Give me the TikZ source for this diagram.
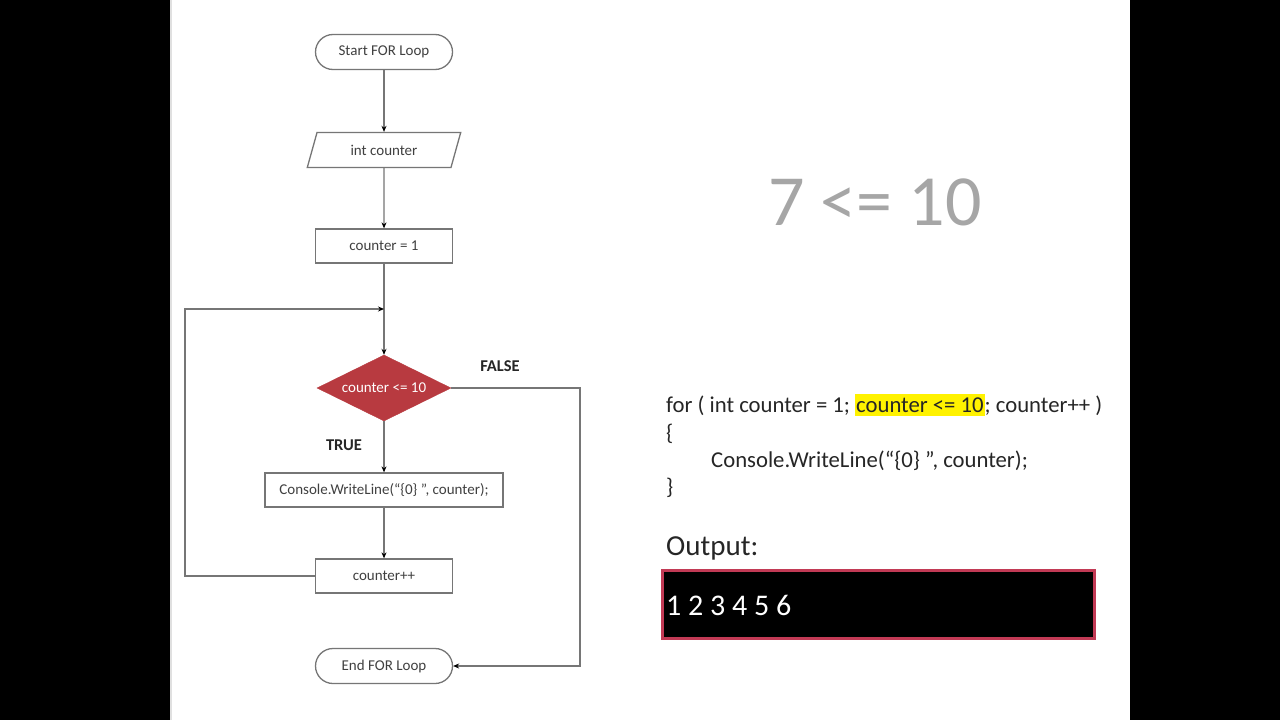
\documentclass[tikz,border=0pt]{standalone}
\usepackage{fontspec}
\setmainfont{Carlito}
\usetikzlibrary{shapes.geometric,arrows.meta,calc}
\definecolor{linegray}{HTML}{767676}
\definecolor{txtgray}{HTML}{404040}
\definecolor{diared}{HTML}{B83A40}
\definecolor{bignum}{HTML}{A6A6A6}
\definecolor{codeblk}{HTML}{262626}
\definecolor{boxred}{HTML}{C23A55}
\tikzset{
  flowtxt/.style={text=txtgray,font=\fontsize{15}{17}\selectfont},
  term/.style={flowtxt,draw=linegray,line width=1.3pt,rounded corners=17.5pt,minimum width=137pt,minimum height=35pt,inner sep=0pt},
  procbox/.style={flowtxt,draw=linegray,line width=1.3pt,minimum width=137pt,minimum height=34pt,inner sep=0pt},
  iobox/.style={flowtxt,draw=linegray,line width=1.3pt,trapezium,trapezium left angle=65,trapezium right angle=115,trapezium stretches=true,minimum width=154pt,minimum height=35pt,inner sep=0pt},
  decision/.style={diamond,fill=diared,draw=diared,text=white,font=\fontsize{15}{17}\selectfont,minimum width=134pt,minimum height=66pt,inner sep=0pt,aspect=2},
  conn/.style={draw=linegray,line width=1.4pt},
  arr/.style={conn,-{Stealth[length=6pt,width=5pt,color=black]}},
  tflabel/.style={font=\bfseries\fontsize{16.5}{18}\selectfont,text=codeblk},
  codeline/.style={anchor=base west,inner sep=0pt,text=codeblk,font=\fontsize{22.7}{25}\selectfont},
}
\begin{document}
\begin{tikzpicture}[x=1pt,y=-1pt]
\useasboundingbox (0,0) rectangle (1280,720);
\fill[black] (0,0) rectangle (1280,720);
\fill[white] (170,0) rectangle (1130,720);
\fill[black!12] (170,0) rectangle (172,720);
% flowchart
\node[term] (start) at (384,52) {Start FOR Loop};
\node[iobox] (intc) at (384,150) {int counter};
\node[procbox] (c1) at (384,246) {counter = 1};
\node[decision] (dia) at (384,388) {counter <= 10};
\node[procbox,minimum width=238pt] (cw) at (384,490) {Console.WriteLine(“\{0\} ”, counter);};
\node[procbox] (cpp) at (384,576) {counter++};
\node[term] (endn) at (384,666) {End FOR Loop};
\coordinate (join) at (384,309);
\coordinate (falsex) at (580,388);
\coordinate (loopx) at (185,576);
\node[tflabel] (flab) at (500,366) {FALSE};
\node[tflabel] (tlab) at (344,445) {TRUE};
\draw[arr] (start) -- (intc);
\draw[arr] (intc) -- (c1);
\draw[arr] (c1) -- (dia);
\draw[arr] (dia) -- (cw);
\draw[arr] (cw) -- (cpp);
\draw[arr] (cpp.west) -- (loopx) |- (join);
\draw[arr] (dia.east) -- (falsex) |- (endn.east);
% right side
\node[text=bignum,font=\fontsize{72}{80}\selectfont,inner sep=0pt] (cmp) at (875,202) {7 <= 10};
\node[codeline] (l1) at (666,412) {for ( int counter = 1; {\setlength\fboxsep{1pt}\colorbox{yellow}{counter <= 10\vphantom{(}}}; counter++ )};
\node[codeline] (l2) at (666,440) {\{};
\node[codeline] (l3) at (711,467) {Console.WriteLine(“\{0\} ”, counter);};
\node[codeline] (l4) at (666,494) {\}};
\node[anchor=base west,inner sep=0pt,text=codeblk,font=\fontsize{29}{32}\selectfont] (outl) at (666,555) {Output:};
\node[draw=boxred,line width=2.5pt,fill=black,minimum width=432pt,minimum height=68pt,inner sep=0pt] (outbox) at (878.5,604.5) {};
\node[anchor=base west,inner sep=0pt,text=white,font=\fontsize{30}{32}\selectfont] (outtxt) at (666,615) {1 2 3 4 5 6};
\end{tikzpicture}
\end{document}
